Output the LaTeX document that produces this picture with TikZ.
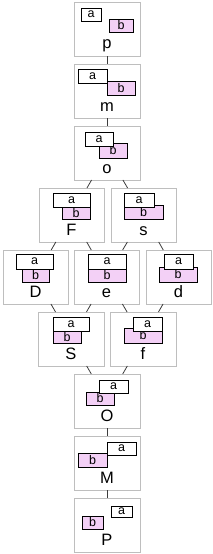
\documentclass[tikz,border=0pt]{standalone}
\usepackage{fontspec}
\setmainfont{Liberation Sans}
\definecolor{outerc}{RGB}{190,190,190}
\definecolor{linec}{RGB}{60,60,60}
\definecolor{pinkc}{RGB}{243,208,246}
\newcommand{\mkbox}[7]{%
  \node[#7, minimum width={(#4-#2)*1pt}, minimum height={(#5-#3)*1pt}] (#1) at ({(#2+#4)/2},{(#3+#5)/2}) {#6};}
\begin{document}
\begin{tikzpicture}[x=1pt,y=-1pt,
  outer/.style={draw=outerc, line width=0.9pt, fill=white, inner sep=0pt, outer sep=0pt},
  abox/.style={draw=black, line width=0.8pt, fill=white, inner sep=0pt, font=\fontsize{12.5}{13}\selectfont},
  bbox/.style={draw=black, line width=0.8pt, fill=pinkc, inner sep=0pt, font=\fontsize{12.5}{13}\selectfont},
  lbl/.style={anchor=base, inner sep=0pt, font=\fontsize{16.5}{18}\selectfont},
  conn/.style={draw=linec, line width=0.8pt}]
\useasboundingbox (0,0) rectangle (213,554);
% outer boxes
\mkbox{p}{74}{2}{140}{56}{}{outer}
\mkbox{m}{74}{64}{140}{118}{}{outer}
\mkbox{o}{74}{126}{140}{180}{}{outer}
\mkbox{F}{39}{188}{104}{242}{}{outer}
\mkbox{s}{111}{188}{176}{242}{}{outer}
\mkbox{D}{3}{250}{68}{304}{}{outer}
\mkbox{e}{74}{250}{139}{304}{}{outer}
\mkbox{d}{146}{250}{211}{304}{}{outer}
\mkbox{S}{38}{312}{104}{366}{}{outer}
\mkbox{f}{110}{312}{176}{366}{}{outer}
\mkbox{O}{74}{374}{140}{428}{}{outer}
\mkbox{M}{74}{436}{140}{490}{}{outer}
\mkbox{P}{74}{498}{140}{552}{}{outer}
% connectors
\foreach \u/\v in {p/m,m/o,o/F,o/s,F/D,F/e,s/e,s/d,D/S,e/S,e/f,d/f,S/O,f/O,O/M,M/P}
  \draw[conn] (\u) -- (\v);
% inner boxes: b first, then a on top
\mkbox{pb}{109}{19}{133}{32}{b}{bbox}
\mkbox{pa}{81}{8}{101}{21}{a}{abox}
\mkbox{mb}{107}{81}{135}{95}{b}{bbox}
\mkbox{ma}{78}{69}{107}{83}{a}{abox}
\mkbox{ob}{99}{143}{127}{158}{b}{bbox}
\mkbox{oa}{85}{132}{113}{146}{a}{abox}
\mkbox{Fb}{62}{207}{90}{219}{b}{bbox}
\mkbox{Fa}{53}{193}{90}{207}{a}{abox}
\mkbox{sb}{124}{205}{163}{219}{b}{bbox}
\mkbox{sa}{124}{193}{154}{207}{a}{abox}
\mkbox{Db}{22}{269}{49}{282}{b}{bbox}
\mkbox{Da}{16}{254}{53}{269}{a}{abox}
\mkbox{eb}{88}{269}{126}{282}{b}{bbox}
\mkbox{ea}{88}{254}{126}{269}{a}{abox}
\mkbox{db}{159}{267}{197}{282}{b}{bbox}
\mkbox{da}{164}{254}{193}{269}{a}{abox}
\mkbox{Sb}{53}{331}{81}{343}{b}{bbox}
\mkbox{Sa}{53}{317}{89}{331}{a}{abox}
\mkbox{fb}{124}{328}{162}{343}{b}{bbox}
\mkbox{fa}{133}{317}{162}{331}{a}{abox}
\mkbox{Ob}{86}{392}{114}{405}{b}{bbox}
\mkbox{Oa}{99}{380}{128}{393}{a}{abox}
\mkbox{Mb}{78}{453}{107}{467}{b}{bbox}
\mkbox{Ma}{107}{442}{136}{455}{a}{abox}
\mkbox{Pb}{82}{516}{103}{529}{b}{bbox}
\mkbox{Pa}{111}{506}{132}{517}{a}{abox}
% labels
\node[lbl] (pl) at (107,48.5) {p};
\node[lbl] (ml) at (107,111) {m};
\node[lbl] (ol) at (107,173) {o};
\node[lbl] (Fl) at (71.5,235) {F};
\node[lbl] (sl) at (143.5,235) {s};
\node[lbl] (Dl) at (35.5,297) {D};
\node[lbl] (el) at (106.5,297) {e};
\node[lbl] (dl) at (178.5,297) {d};
\node[lbl] (Sl) at (71,359) {S};
\node[lbl] (fl) at (143,359) {f};
\node[lbl] (Ol) at (107,421) {O};
\node[lbl] (Ml) at (107,483) {M};
\node[lbl] (Pl) at (107,545) {P};
\end{tikzpicture}
\end{document}
